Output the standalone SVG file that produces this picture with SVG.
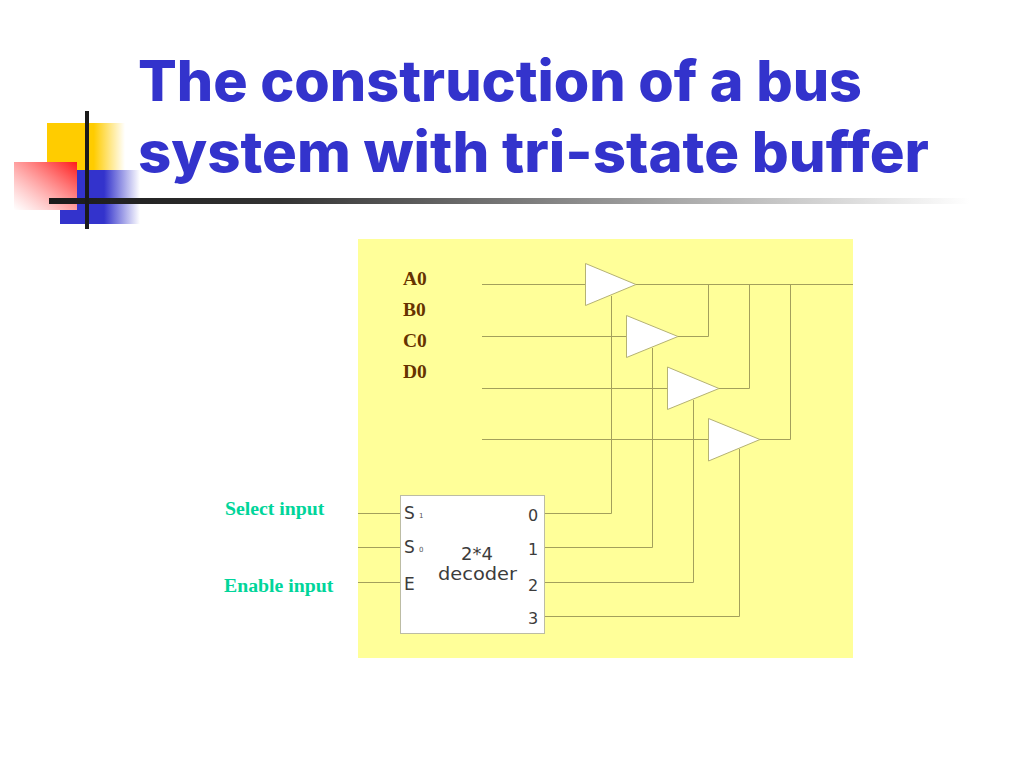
<svg xmlns="http://www.w3.org/2000/svg" width="1024" height="768" viewBox="0 0 1024 768">
<style>
.title{font-family:"Inter","Noto Sans",sans-serif;font-weight:800;font-size:56px;fill:#3333cc}
.w{fill:none;stroke:#a3a05c;stroke-width:1}
.tri{fill:#fff;stroke:#b5b274;stroke-width:1}
.sig{font-family:"Liberation Serif",serif;font-weight:700;font-size:19.500px;fill:#663300}
.ctl{font-family:"Liberation Serif",serif;font-weight:700;font-size:19.800px;fill:#00d59a}
.dec{font-family:"DejaVu Sans",sans-serif;font-size:16px;fill:#3c3c3c}
.cap{font-family:"DejaVu Sans",sans-serif;font-size:17px;fill:#3c3c3c}
.big{font-family:"DejaVu Sans",sans-serif;font-size:18px;fill:#3c3c3c}
.sub{font-family:"DejaVu Sans",sans-serif;font-size:7px;fill:#555}
</style>
<defs>
<linearGradient id="gy"><stop offset="0.6" stop-color="#ffcc00"/><stop offset="1" stop-color="#ffcc00" stop-opacity="0"/></linearGradient>
<linearGradient id="gb"><stop offset="0.55" stop-color="#3333cc"/><stop offset="1" stop-color="#3333cc" stop-opacity="0"/></linearGradient>
<linearGradient id="gr" x1="1" y1="0" x2="0" y2="1"><stop offset="0" stop-color="#ff1a1a"/><stop offset="1" stop-color="#ff6666" stop-opacity="0"/></linearGradient>
<linearGradient id="gk"><stop offset="0" stop-color="#1a1a1a"/><stop offset="0.25" stop-color="#333"/><stop offset="1" stop-color="#333" stop-opacity="0"/></linearGradient>
</defs>
<g id="decoration">
<rect x="47" y="123" width="78" height="47" fill="url(#gy)"/>
<rect x="60" y="170" width="80" height="54" fill="url(#gb)"/>
<rect x="14" y="162" width="63" height="48" fill="#fff"/>
<rect x="14" y="162" width="63" height="48" fill="url(#gr)"/>
<rect x="49" y="198" width="921" height="6" fill="url(#gk)"/>
<rect x="85" y="111" width="4" height="118" fill="#1a1a1a"/>
</g>
<g id="title">
<text class="title" x="138" y="101" textLength="724" lengthAdjust="spacingAndGlyphs">The construction of a bus</text>
<text class="title" x="138" y="172" textLength="791" lengthAdjust="spacingAndGlyphs">system with tri-state buffer</text>
</g>
<rect id="panel" x="358" y="239" width="495" height="419" fill="#ffff99"/>
<g id="connectors">
<path class="w" d="M482 284.500H585M636 284.500H853M482 336.500H626M678 336.500H708.500V284.500M482 388.500H667M719 388.500H749.500V284.500M482 439.500H708M760 439.500H790.500V284.500"/>
<path class="w" d="M358 513.500H400M358 547.500H400M358 582.500H400"/>
<path class="w" d="M544 513.500H611.500V296M544 547.500H652.500V348M544 582.500H693.500V400M544 616.500H739.500V449"/>
</g>
<g id="buf0"><path class="tri" d="M585.500 263.500L636 284.500L585.500 305.500Z"/></g>
<g id="buf1"><path class="tri" d="M626.500 315.500L678 336.500L626.500 357.500Z"/></g>
<g id="buf2"><path class="tri" d="M667.500 367L719 388.500L667.500 409.500Z"/></g>
<g id="buf3"><path class="tri" d="M708.500 418.500L760 439.500L708.500 461Z"/></g>
<g id="decoder">
<rect x="400.500" y="495.500" width="144" height="138" fill="#fff" stroke="#bcbca4"/>
<text class="cap" x="404" y="519">S</text><text class="sub" x="419" y="518">1</text>
<text class="cap" x="404" y="553">S</text><text class="sub" x="419" y="552">0</text>
<text class="cap" x="404" y="590">E</text>
<text class="big" x="477" y="560" text-anchor="middle">2*4</text>
<text class="big" x="438" y="580" textLength="79" lengthAdjust="spacingAndGlyphs">decoder</text>
<text class="dec" x="528" y="521">0</text>
<text class="dec" x="528" y="555">1</text>
<text class="dec" x="528" y="591">2</text>
<text class="dec" x="528" y="624">3</text>
</g>
<g id="labels">
<text class="sig" x="403" y="284.500">A0</text>
<text class="sig" x="403" y="315.500">B0</text>
<text class="sig" x="403" y="346.500">C0</text>
<text class="sig" x="403" y="377.500">D0</text>
<text class="ctl" x="225" y="514.500">Select input</text>
<text class="ctl" x="224" y="591.500">Enable input</text>
</g>
</svg>
